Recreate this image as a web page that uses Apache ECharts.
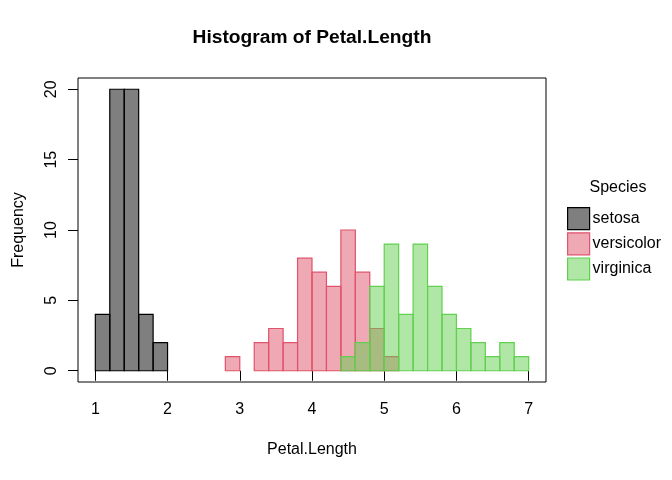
<!DOCTYPE html>
<html>
<head>
<meta charset="utf-8">
<script src="https://cdn.jsdelivr.net/npm/echarts@6/dist/echarts.min.js"></script>
<style>
  html, body { margin: 0; padding: 0; background: #fff; }
  #chart { width: 672px; height: 480px; }
</style>
</head>
<body>
<div id="chart"></div>
<script>
const binWidth = 0.2;

const setosaStart = [1.0, 1.2, 1.4, 1.6, 1.8];
const setosaCount = [4, 20, 20, 4, 2];

const versicolorStart = [2.8, 3.0, 3.2, 3.4, 3.6, 3.8, 4.0, 4.2, 4.4, 4.6, 4.8, 5.0];
const versicolorCount = [1, 0, 2, 3, 2, 8, 7, 6, 10, 7, 3, 1];

const virginicaStart = [4.4, 4.6, 4.8, 5.0, 5.2, 5.4, 5.6, 5.8, 6.0, 6.2, 6.4, 6.6, 6.8];
const virginicaCount = [1, 2, 6, 9, 4, 9, 6, 4, 3, 2, 1, 2, 1];

const xTicks = [1, 2, 3, 4, 5, 6, 7];
const yTicks = [0, 5, 10, 15, 20];

const species = ["setosa", "versicolor", "virginica"];
const fills = ["rgba(0,0,0,0.5)", "rgba(223,83,107,0.5)", "rgba(97,208,79,0.5)"];
const strokes = ["#000000", "#DF536B", "#61D04F"];

const font = "'Liberation Sans', Arial, Helvetica, sans-serif";

function bins(start, count) {
  return start.map((s, i) => [s, +(s + binWidth).toFixed(2), count[i]]);
}

function histSeries(idx, data) {
  return {
    name: species[idx],
    type: "custom",
    data: data,
    encode: { x: [0, 1], y: 2 },
    itemStyle: { color: fills[idx], borderColor: strokes[idx], borderWidth: 1.2 },
    renderItem: function (params, api) {
      const h = api.value(2);
      if (!h) return null; // empty bins are not drawn
      const p0 = api.coord([api.value(0), 0]);
      const p1 = api.coord([api.value(1), h]);
      return {
        type: "rect",
        shape: { x: p0[0], y: p1[1], width: p1[0] - p0[0], height: p0[1] - p1[1] },
        style: { fill: fills[idx], stroke: strokes[idx], lineWidth: 1.2 },
      };
    },
  };
}

let mychart = echarts.init(document.getElementById("chart"));
let option = {
  animation: false,
  textStyle: { fontFamily: font },
  title: [
    {
      text: "Histogram of Petal.Length",
      left: 312,
      top: 28,
      padding: 0,
      textAlign: "center",
      textStyle: { fontFamily: font, fontSize: 19.2, fontWeight: "bold", color: "#000" },
    },
    {
      text: "Species",
      left: 618,
      top: 180,
      padding: 0,
      textAlign: "center",
      textStyle: { fontFamily: font, fontSize: 16, fontWeight: "normal", color: "#000" },
    },
  ],
  legend: {
    orient: "vertical",
    left: 567,
    top: 207,
    padding: 0,
    itemWidth: 22,
    itemHeight: 22,
    itemGap: 2,
    icon: "rect",
    textStyle: { fontFamily: font, fontSize: 16, color: "#000", padding: [0, 0, 0, -2] },
    data: species.map((s, i) => ({
      name: s,
      itemStyle: { color: fills[i], borderColor: strokes[i], borderWidth: 1.2 },
    })),
  },
  grid: {
    left: 78,
    right: 126,
    top: 78,
    bottom: 98,
    show: true,
    borderColor: "#000",
    borderWidth: 1,
    backgroundColor: "transparent",
  },
  xAxis: {
    type: "value",
    min: 0.76,
    max: 7.24,
    name: "Petal.Length",
    nameLocation: "middle",
    nameGap: 60,
    nameTextStyle: { fontFamily: font, fontSize: 16, color: "#000" },
    axisLine: { show: false },
    splitLine: { show: false },
    axisTick: {
      show: true,
      inside: false,
      length: 10,
      customValues: xTicks,
      lineStyle: { color: "#000" },
    },
    axisLabel: {
      customValues: xTicks,
      margin: 20,
      fontFamily: font,
      fontSize: 16,
      color: "#000",
    },
  },
  yAxis: {
    type: "value",
    min: -0.8,
    max: 20.8,
    name: "Frequency",
    nameLocation: "middle",
    nameGap: 51,
    nameTextStyle: { fontFamily: font, fontSize: 16, color: "#000" },
    axisLine: { show: false },
    splitLine: { show: false },
    axisTick: {
      show: true,
      inside: false,
      length: 10,
      customValues: yTicks,
      lineStyle: { color: "#000" },
    },
    axisLabel: {
      customValues: yTicks,
      rotate: 90,
      margin: 18,
      fontFamily: font,
      fontSize: 16,
      color: "#000",
    },
  },
  series: [
    histSeries(0, bins(setosaStart, setosaCount)),
    histSeries(1, bins(versicolorStart, versicolorCount)),
    histSeries(2, bins(virginicaStart, virginicaCount)),
  ],
};
mychart.setOption(option);
</script>
</body>
</html>
